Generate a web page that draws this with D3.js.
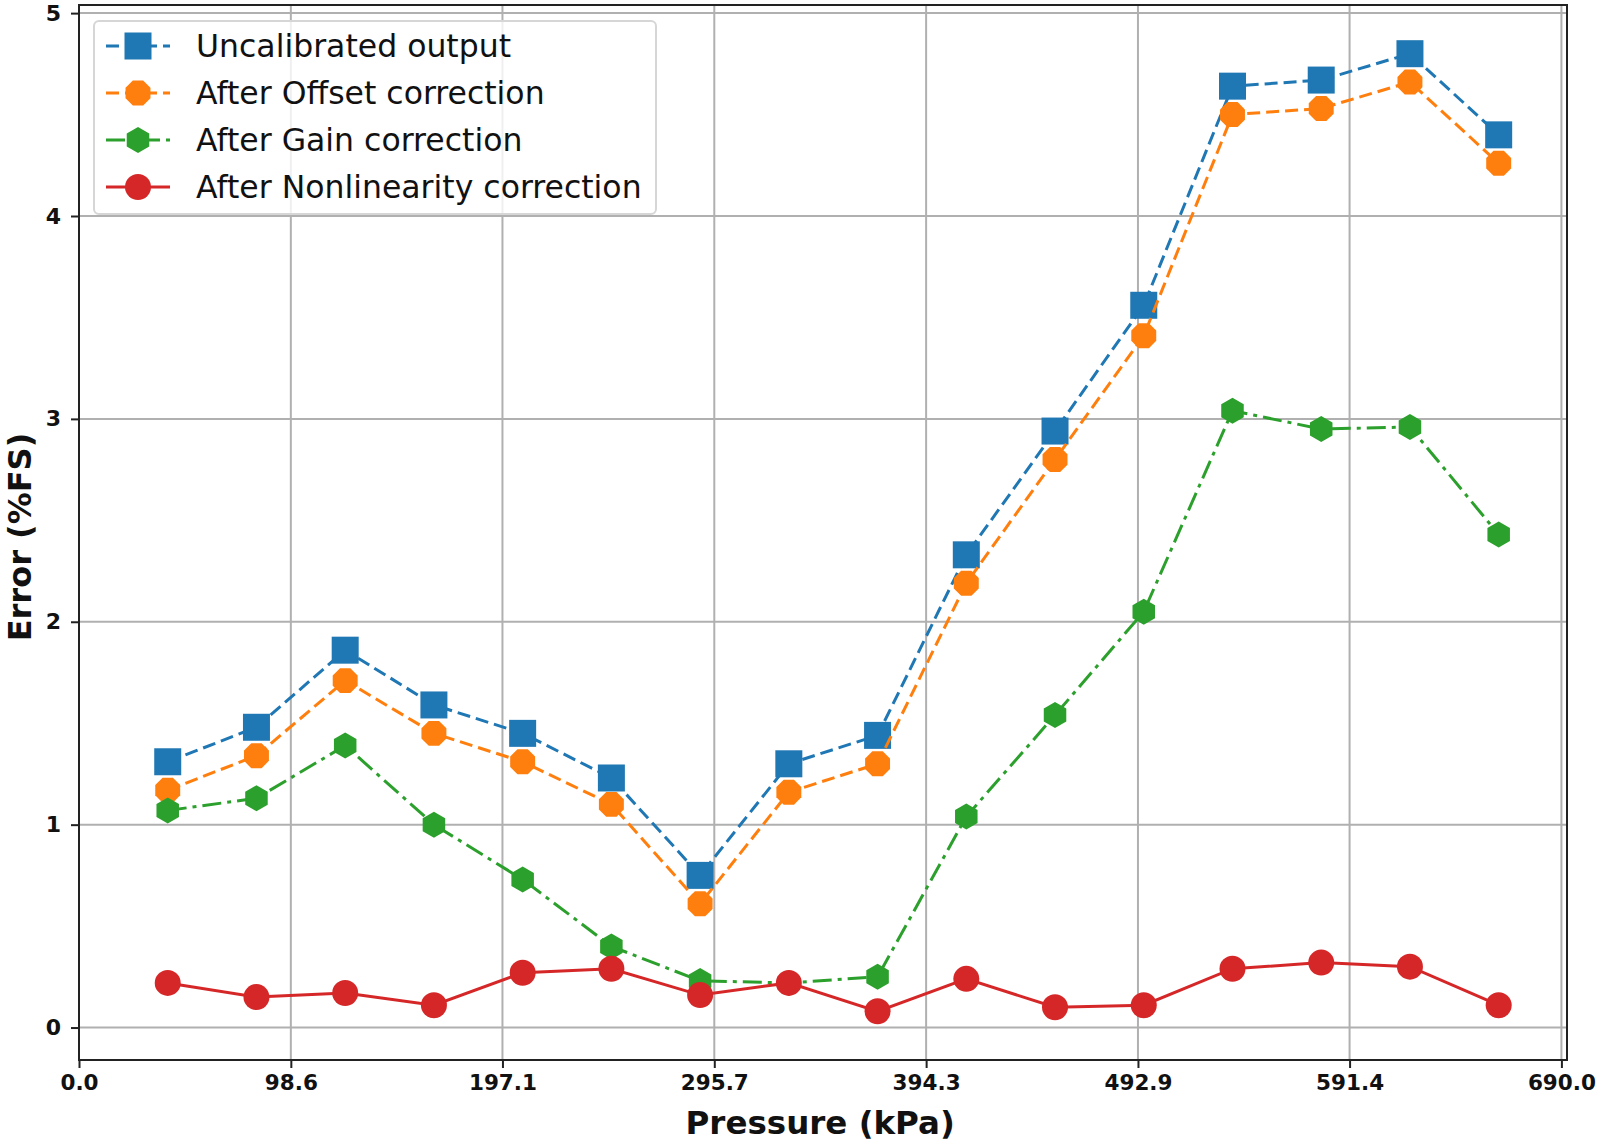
<!DOCTYPE html>
<html>
<head>
<meta charset="utf-8">
<script src="https://cdn.jsdelivr.net/npm/d3@7"></script>
<style>
  body { margin: 0; background: #fff; }
  text { font-family: "DejaVu Sans", sans-serif; }
</style>
</head>
<body>
<div id="chart"></div>
<script>
// pressure points (kPa)
var pressure = [41.3, 82.6, 123.9, 165.2, 206.5, 247.8, 289.1, 330.4, 371.7, 413.0, 454.3, 495.6, 536.9, 578.2, 619.5, 660.8];

var uncalibrated = [1.31, 1.48, 1.86, 1.59, 1.45, 1.23, 0.75, 1.30, 1.44, 2.33, 2.94, 3.56, 4.64, 4.67, 4.80, 4.40];
var offsetCorr   = [1.17, 1.34, 1.71, 1.45, 1.31, 1.10, 0.61, 1.16, 1.30, 2.19, 2.80, 3.41, 4.50, 4.53, 4.66, 4.26];
var gainCorr     = [1.07, 1.13, 1.39, 1.00, 0.73, 0.40, 0.23, 0.22, 0.25, 1.04, 1.54, 2.05, 3.04, 2.95, 2.96, 2.43];
var nonlinCorr   = [0.22, 0.15, 0.17, 0.11, 0.27, 0.29, 0.16, 0.22, 0.08, 0.24, 0.10, 0.11, 0.29, 0.32, 0.30, 0.11];

var seriesNames = ["Uncalibrated output", "After Offset correction", "After Gain correction", "After Nonlinearity correction"];
var xTicks = [0, 98.6, 197.1, 295.7, 394.3, 492.9, 591.4, 690.0];
var yTicks = [0, 1, 2, 3, 4, 5];

var W = 1600, H = 1141,
    m = {left: 79, right: 33, top: 5, bottom: 81},
    w = W - m.left - m.right,
    h = H - m.top - m.bottom;

var x = d3.scaleLinear().domain([0, 692.6]).range([0, w]),
    y = d3.scaleLinear().domain([-0.16, 5.04]).range([h, 0]);

var styles = [
  {color: "#1f77b4", dash: "13,6", marker: "square"},
  {color: "#ff7f0e", dash: "13,6", marker: "octagon"},
  {color: "#2ca02c", dash: "19,6,4,6", marker: "hexagon"},
  {color: "#d62728", dash: null, marker: "circle"}
];
var data = [uncalibrated, offsetCorr, gainCorr, nonlinCorr];

function polygon(n, r, rot) {
  var pts = [];
  for (var i = 0; i < n; i++) {
    var a = rot + i * 2 * Math.PI / n;
    pts.push([r * Math.cos(a), r * Math.sin(a)]);
  }
  return "M" + pts.join("L") + "Z";
}
function markerPath(type) {
  if (type == "square") return "M-13.5,-13.5H13.5V13.5H-13.5Z";
  if (type == "octagon") return polygon(8, 13.5, Math.PI / 8);
  if (type == "hexagon") return polygon(6, 13, -Math.PI / 2);
  return d3.symbol(d3.symbolCircle, Math.PI * 13 * 13)();
}

var svg = d3.select("#chart").append("svg")
    .attr("width", W)
    .attr("height", H);

var vis = svg.append("g")
    .attr("transform", "translate(" + m.left + "," + m.top + ")");

// grid
vis.append("g").selectAll("line").data(xTicks).join("line")
    .attr("x1", d => x(d)).attr("x2", d => x(d))
    .attr("y1", 0).attr("y2", h)
    .attr("stroke", "#b0b0b0").attr("stroke-width", 2);
vis.append("g").selectAll("line").data(yTicks).join("line")
    .attr("x1", 0).attr("x2", w)
    .attr("y1", d => y(d)).attr("y2", d => y(d))
    .attr("stroke", "#b0b0b0").attr("stroke-width", 2);

// axes
var xAxis = vis.append("g")
    .attr("transform", "translate(0," + h + ")")
    .call(d3.axisBottom(x).tickValues(xTicks).tickFormat(d3.format(".1f")).tickSize(8).tickSizeOuter(0));
var yAxis = vis.append("g")
    .call(d3.axisLeft(y).tickValues(yTicks).tickFormat(d3.format("d")).tickSize(8).tickSizeOuter(0));
[xAxis, yAxis].forEach(function(a) {
  a.select(".domain").remove();
  a.selectAll("line").attr("stroke", "#222").attr("stroke-width", 2);
  a.selectAll("text").attr("fill", "#111")
    .style("font-family", "DejaVu Sans").style("font-weight", "bold");
});
xAxis.selectAll("text").style("font-size", "21.5px").attr("y", 10).attr("dy", "0.95em");
yAxis.selectAll("text").style("font-size", "22px").attr("x", -18);

// series
var line = d3.line().x((d, i) => x(pressure[i])).y(d => y(d));
data.forEach(function(vals, k) {
  var s = styles[k];
  var g = vis.append("g");
  g.append("path")
    .attr("d", line(vals))
    .attr("fill", "none")
    .attr("stroke", s.color)
    .attr("stroke-width", 3)
    .attr("stroke-dasharray", s.dash);
  g.selectAll(".pt").data(vals).join("path")
    .attr("class", "pt")
    .attr("transform", (d, i) => "translate(" + x(pressure[i]) + "," + y(d) + ")")
    .attr("d", markerPath(s.marker))
    .attr("fill", s.color);
});

// frame
vis.append("rect")
    .attr("width", w).attr("height", h)
    .attr("fill", "none").attr("stroke", "#222").attr("stroke-width", 2);

// legend
var lg = vis.append("g").attr("transform", "translate(15,16)");
lg.append("rect")
    .attr("width", 562).attr("height", 193).attr("rx", 5)
    .attr("fill", "#fff").attr("fill-opacity", 0.8)
    .attr("stroke", "#d6d6d6").attr("stroke-width", 2);
seriesNames.forEach(function(name, k) {
  var s = styles[k], cy = 25 + k * 47;
  lg.append("line")
    .attr("x1", 12).attr("x2", 76).attr("y1", cy).attr("y2", cy)
    .attr("stroke", s.color).attr("stroke-width", 3)
    .attr("stroke-dasharray", s.dash);
  lg.append("path")
    .attr("transform", "translate(44," + cy + ")")
    .attr("d", markerPath(s.marker))
    .attr("fill", s.color);
  lg.append("text")
    .attr("x", 102).attr("y", cy).attr("dy", "0.36em")
    .style("font-size", "31.5px").attr("fill", "#111")
    .text(name);
});

// axis titles
svg.append("text")
    .attr("x", m.left + x(345)).attr("y", 1134)
    .attr("text-anchor", "middle")
    .style("font-size", "32.5px").style("font-weight", "bold").attr("fill", "#111")
    .text("Pressure (kPa)");
svg.append("text")
    .attr("transform", "translate(31,537) rotate(-90)")
    .attr("text-anchor", "middle")
    .style("font-size", "32px").style("font-weight", "bold").attr("fill", "#111")
    .text("Error (%FS)");
</script>
</body>
</html>
